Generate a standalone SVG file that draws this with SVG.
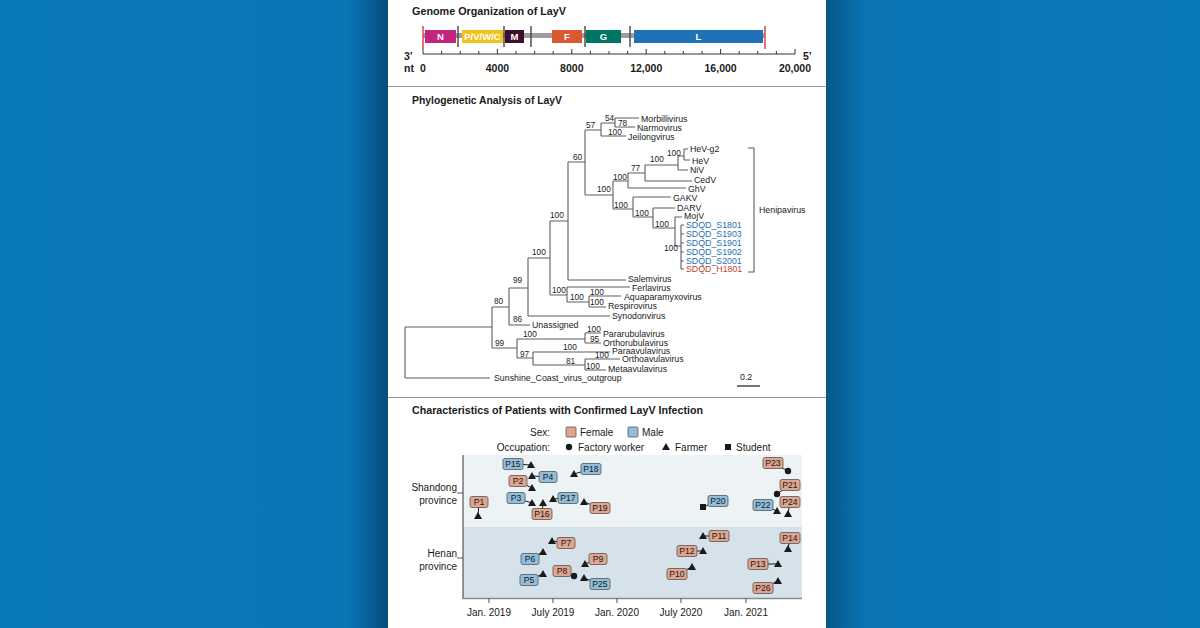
<svg xmlns="http://www.w3.org/2000/svg" xmlns:xlink="http://www.w3.org/1999/xlink" width="1200" height="628" viewBox="0 0 1200 628">
<defs>
<linearGradient id="bg" x1="0" y1="0" x2="1200" y2="0" gradientUnits="userSpaceOnUse">
<stop offset="0" stop-color="#0a79bb"/>
<stop offset="0.29" stop-color="#0a75b5"/>
<stop offset="0.323" stop-color="#054d7c"/>
<stop offset="0.69" stop-color="#06588a"/>
<stop offset="0.72" stop-color="#0a74b3"/>
<stop offset="1" stop-color="#0a79bb"/>
</linearGradient>
<path id="tri" d="M0,-4 L4,3 L-4,3Z" fill="#1a1a1a"/>
<circle id="dot" r="3.2" fill="#1a1a1a"/>
<rect id="sq" x="-3" y="-3" width="6" height="6" fill="#1a1a1a"/>
</defs>
<style>
.t{font-family:"Liberation Sans",Arial,sans-serif;fill:#1a1a1a}
.title{font-family:"Liberation Sans",Arial,sans-serif;font-weight:bold;font-size:11.5px;fill:#1a1a1a}
.ax{font-family:"Liberation Sans",Arial,sans-serif;font-weight:bold;font-size:10.5px;fill:#1a1a1a}
.gl{font-family:"Liberation Sans",Arial,sans-serif;font-weight:bold;font-size:9.5px;fill:#fff;text-anchor:middle}
.tip{font-family:"Liberation Sans",Arial,sans-serif;font-size:8.8px;fill:#1a1a1a}
.bs{font-family:"Liberation Sans",Arial,sans-serif;font-size:8.3px;fill:#1a1a1a}
.blue{fill:#1f6fae}
.red{fill:#c0412b}
.br{stroke:#5e5e5e;stroke-width:1.1;fill:none}
.sep{stroke:#444;stroke-width:1.4}
.red-l{stroke:#d9534f;stroke-width:1.6}
.fem{fill:#dfa58f;stroke:#555;stroke-width:0.8}
.mal{fill:#91bedb;stroke:#555;stroke-width:0.8}
.pl{font-family:"Liberation Sans",Arial,sans-serif;font-size:8.6px;fill:#1a1a1a;text-anchor:middle}
.lk{stroke:#1a1a1a;stroke-width:1}
.lg{font-family:"Liberation Sans",Arial,sans-serif;font-size:10px;fill:#1a1a1a}
</style>
<rect x="0" y="0" width="1200" height="628" fill="url(#bg)"/>
<rect x="388" y="0" width="438" height="628" fill="#ffffff"/>
<line x1="388" y1="86.5" x2="826" y2="86.5" stroke="#9a9a9a" stroke-width="1"/>
<line x1="388" y1="397.5" x2="826" y2="397.5" stroke="#9a9a9a" stroke-width="1"/>

<!-- Genome organization -->
<g id="genome">
<text class="title" x="412" y="15" textLength="154" lengthAdjust="spacingAndGlyphs">Genome Organization of LayV</text>
<line x1="423" y1="35.5" x2="765" y2="35.5" stroke="#9e9e9e" stroke-width="5"/>
<g id="gene-N"><rect x="425" y="30" width="31" height="13" fill="#c2257f"/><text class="gl" x="440.5" y="40">N</text></g>
<g id="gene-PVWC"><rect x="462" y="30" width="41" height="13" fill="#f1c31c"/><text class="gl" x="482.5" y="40">P/V/W/C</text></g>
<g id="gene-M"><rect x="505" y="30" width="19" height="13" fill="#3e0c2f"/><text class="gl" x="514.5" y="40">M</text></g>
<g id="gene-F"><rect x="552" y="30" width="30" height="13" fill="#d95a32"/><text class="gl" x="567" y="40">F</text></g>
<g id="gene-G"><rect x="586" y="30" width="35" height="13" fill="#007563"/><text class="gl" x="603.5" y="40">G</text></g>
<g id="gene-L"><rect x="634" y="30" width="129" height="13" fill="#1f72b6"/><text class="gl" x="698.5" y="40">L</text></g>
<line class="red-l" x1="423" y1="26" x2="423" y2="49"/>
<line class="red-l" x1="765" y1="26" x2="765" y2="49"/>
<line class="sep" x1="458" y1="26" x2="458" y2="47"/>
<line class="sep" x1="504" y1="26" x2="504" y2="47"/>
<line class="sep" x1="531" y1="26" x2="531" y2="47"/>
<line class="sep" x1="585" y1="26" x2="585" y2="47"/>
<line class="sep" x1="630" y1="26" x2="630" y2="47"/>
<g stroke="#333" stroke-width="1">
<line x1="423" y1="54" x2="795" y2="54"/>
<path d="M423,54V49M441.6,54V51M460.2,54V51M478.8,54V51M497.4,54V49M516,54V51M534.6,54V51M553.2,54V51M571.8,54V49M590.4,54V51M609,54V51M627.6,54V51M646.2,54V49M664.8,54V51M683.4,54V51M702,54V51M720.6,54V49M739.2,54V51M757.8,54V51M776.4,54V51M795,54V49"/>
</g>
<text class="ax" x="404" y="60">3’</text>
<text class="ax" x="404" y="72">nt</text>
<text class="ax" x="803" y="60">5’</text>
<g class="ax" text-anchor="middle">
<text x="423" y="72">0</text>
<text x="497.4" y="72">4000</text>
<text x="571.8" y="72">8000</text>
<text x="646.2" y="72">12,000</text>
<text x="720.6" y="72">16,000</text>
<text x="795" y="72">20,000</text>
</g>
</g>

<!-- Phylogenetic tree -->
<text class="title" x="412" y="104" textLength="150" lengthAdjust="spacingAndGlyphs">Phylogenetic Analysis of LayV</text>
<g id="tree-branches">
<path class="br" d="M405,327V378M405,327H492M405,378H490
M492,307V348M492,307H509M492,348H517
M509,288V325M509,288H528M509,325H530
M528,258V316M528,258H550M528,316H610
M550,221V295M550,221H568M550,295H567
M567,287V302M567,287H630M567,302H589
M589,296V307M589,296H621M589,307H606
M568,162V280M568,162H585M568,280H626
M585,130V195M585,130H601M585,195H613
M601,123V136M601,123H615M601,136H626
M615,118V127M615,118H639M615,127H635
M613,181V209M613,181H628M613,209H633
M628,173V188M628,173H645M628,188H686
M645,165V181M645,165H678M645,181H692
M678,156V170M678,156H684M678,170H688
M684,149V160M684,149H688M684,160H690
M633,197V217M633,197H671M633,217H653
M653,208V228M653,208H675M653,228H675
M675,217V246M675,217H682M675,246H681
M681,225V269M681,225H684M681,234H684M681,243H684M681,252H684M681,261H684M681,269H684
M517,339V358M517,339H585M517,358H533
M585,333V343M585,333H601M585,343H601
M533,352V365M533,352H610M533,365H585
M585,359V370M585,359H620M585,370H606"/>
<path class="br" d="M748,148H754V272H748"/>
<path d="M737,386H760" stroke="#1a1a1a" stroke-width="1.2"/>
</g>
<g id="tree-bootstrap" class="bs">
<text x="605" y="121">54</text>
<text x="618" y="126">78</text>
<text x="586" y="128">57</text>
<text x="608" y="135">100</text>
<text x="573" y="160">60</text>
<text x="667" y="156">100</text>
<text x="650" y="162">100</text>
<text x="631" y="171">77</text>
<text x="613" y="180">100</text>
<text x="597" y="192">100</text>
<text x="614" y="208">100</text>
<text x="635" y="216">100</text>
<text x="655" y="227">100</text>
<text x="664" y="251">100</text>
<text x="550" y="218">100</text>
<text x="532" y="255">100</text>
<text x="513" y="283">99</text>
<text x="494" y="304">80</text>
<text x="513" y="322">86</text>
<text x="552" y="293">100</text>
<text x="570" y="300">100</text>
<text x="590" y="295">100</text>
<text x="590" y="305">100</text>
<text x="523" y="337">100</text>
<text x="495" y="346">99</text>
<text x="587" y="332">100</text>
<text x="590" y="342">95</text>
<text x="520" y="357">97</text>
<text x="563" y="350">100</text>
<text x="595" y="358">100</text>
<text x="566" y="364">81</text>
<text x="586" y="369">100</text>
</g>
<g id="tree-tips" class="tip">
<text id="tip-morbilli" x="641" y="122">Morbillivirus</text>
<text id="tip-narmo" x="637" y="131">Narmovirus</text>
<text id="tip-jeilong" x="628" y="140">Jeilongvirus</text>
<text id="tip-hevg2" x="690" y="152">HeV-g2</text>
<text id="tip-hev" x="692" y="164">HeV</text>
<text id="tip-niv" x="690" y="173">NiV</text>
<text id="tip-cedv" x="694" y="182.5">CedV</text>
<text id="tip-ghv" x="688" y="191.5">GhV</text>
<text id="tip-gakv" x="673" y="201">GAKV</text>
<text id="tip-darv" x="677" y="211">DARV</text>
<text id="tip-mojv" x="684" y="219">MojV</text>
<text id="tip-s1801" class="blue" x="686" y="228">SDQD_S1801</text>
<text id="tip-s1903" class="blue" x="686" y="237">SDQD_S1903</text>
<text id="tip-s1901" class="blue" x="686" y="246">SDQD_S1901</text>
<text id="tip-s1902" class="blue" x="686" y="255">SDQD_S1902</text>
<text id="tip-s2001" class="blue" x="686" y="264">SDQD_S2001</text>
<text id="tip-h1801" class="red" x="686" y="272">SDQD_H1801</text>
<text id="clade-henipa" x="759" y="213">Henipavirus</text>
<text id="tip-salem" x="628" y="282">Salemvirus</text>
<text id="tip-ferla" x="632" y="291">Ferlavirus</text>
<text id="tip-aqua" x="624" y="300">Aquaparamyxovirus</text>
<text id="tip-respiro" x="608" y="309">Respirovirus</text>
<text id="tip-synodon" x="612" y="319">Synodonvirus</text>
<text id="tip-unassigned" x="532" y="328">Unassigned</text>
<text id="tip-pararubula" x="603" y="337">Pararubulavirus</text>
<text id="tip-orthorubula" x="603" y="346">Orthorubulavirus</text>
<text id="tip-paraavula" x="612" y="354">Paraavulavirus</text>
<text id="tip-orthoavula" x="622" y="362">Orthoavulavirus</text>
<text id="tip-metaavula" x="608" y="372">Metaavulavirus</text>
<text id="tip-sunshine" x="494" y="381">Sunshine_Coast_virus_outgroup</text>
<text id="scale" x="740" y="380">0.2</text>
</g>

<!-- Patients -->
<text class="title" x="412" y="414" textLength="291" lengthAdjust="spacingAndGlyphs">Characteristics of Patients with Confirmed LayV Infection</text>
<g id="legend" class="lg">
<text x="550" y="436" text-anchor="end">Sex:</text>
<rect class="fem" x="566" y="427" width="10" height="10" rx="1"/>
<text x="580" y="436">Female</text>
<rect class="mal" x="628" y="427" width="10" height="10" rx="1"/>
<text x="642" y="436">Male</text>
<text x="550" y="451" text-anchor="end">Occupation:</text>
<use href="#dot" x="569" y="447"/>
<text x="578" y="451">Factory worker</text>
<use href="#tri" x="666" y="447"/>
<text x="675" y="451">Farmer</text>
<use href="#sq" x="728" y="447"/>
<text x="736" y="451">Student</text>
</g>
<g id="chart">
<rect x="463" y="455" width="339" height="72" fill="#edf2f5"/>
<rect x="463" y="527" width="339" height="71" fill="#d6e2e9"/>
<line x1="463" y1="455" x2="463" y2="599" stroke="#555" stroke-width="1.2"/>
<line x1="463" y1="598.5" x2="802" y2="598.5" stroke="#8a8a8a" stroke-width="1.6"/>
<path d="M489,598V603M553,598V603M617,598V603M681,598V603M746,598V603M457,493H463M457,558H463" stroke="#555" stroke-width="1"/>
<g class="lg" text-anchor="middle">
<text x="489" y="616">Jan. 2019</text>
<text x="553" y="616">July 2019</text>
<text x="617" y="616">Jan. 2020</text>
<text x="681" y="616">July 2020</text>
<text x="746" y="616">Jan. 2021</text>
</g>
<g class="lg" text-anchor="end">
<text x="457" y="491">Shandong</text>
<text x="457" y="504">province</text>
<text x="457" y="557">Henan</text>
<text x="457" y="570">province</text>
</g>
</g>
<g id="connectors" class="lk">
<line x1="513" y1="464" x2="531" y2="465"/>
<line x1="518" y1="481" x2="532" y2="488"/>
<line x1="548" y1="477" x2="532" y2="476"/>
<line x1="591" y1="469" x2="574" y2="474"/>
<line x1="479" y1="502" x2="478" y2="516"/>
<line x1="516" y1="498" x2="532" y2="503"/>
<line x1="542" y1="514" x2="543" y2="503"/>
<line x1="568" y1="498" x2="553" y2="499"/>
<line x1="600" y1="508" x2="584" y2="502"/>
<line x1="773" y1="463" x2="788" y2="471"/>
<line x1="790" y1="485" x2="777" y2="494"/>
<line x1="718" y1="501" x2="703" y2="507"/>
<line x1="763" y1="505" x2="777" y2="511"/>
<line x1="790" y1="502" x2="788" y2="514"/>
<line x1="566" y1="543" x2="552" y2="541"/>
<line x1="530" y1="559" x2="543" y2="552"/>
<line x1="598" y1="559" x2="585" y2="564"/>
<line x1="562" y1="571" x2="574" y2="576"/>
<line x1="529" y1="580" x2="543" y2="574"/>
<line x1="600" y1="584" x2="584" y2="578"/>
<line x1="719" y1="536" x2="703" y2="536"/>
<line x1="687" y1="551" x2="703" y2="551"/>
<line x1="677" y1="574" x2="692" y2="567"/>
<line x1="790" y1="538" x2="788" y2="549"/>
<line x1="758" y1="564" x2="778" y2="564"/>
<line x1="763" y1="588" x2="778" y2="581"/>
</g>
<g id="markers">
<use href="#tri" x="531" y="465"/><use href="#tri" x="532" y="488"/><use href="#tri" x="532" y="476"/>
<use href="#tri" x="574" y="474"/><use href="#tri" x="478" y="516"/><use href="#tri" x="532" y="503"/>
<use href="#tri" x="543" y="503"/><use href="#tri" x="553" y="499"/><use href="#tri" x="584" y="502"/>
<use href="#dot" x="788" y="471"/><use href="#dot" x="777" y="494"/><use href="#sq" x="703" y="507"/>
<use href="#tri" x="777" y="511"/><use href="#tri" x="788" y="514"/>
<use href="#tri" x="552" y="541"/><use href="#tri" x="543" y="552"/><use href="#tri" x="585" y="564"/>
<use href="#dot" x="574" y="576"/><use href="#tri" x="543" y="574"/><use href="#tri" x="584" y="578"/>
<use href="#tri" x="703" y="536"/><use href="#tri" x="703" y="551"/><use href="#tri" x="692" y="567"/>
<use href="#tri" x="788" y="549"/><use href="#tri" x="778" y="564"/><use href="#tri" x="778" y="581"/>
</g>
<g id="patients">
<g id="P15"><rect class="mal" x="503" y="458.5" width="20" height="11" rx="2"/><text class="pl" x="513" y="467">P15</text></g>
<g id="P2"><rect class="fem" x="509" y="475.5" width="18" height="11" rx="2"/><text class="pl" x="518" y="484">P2</text></g>
<g id="P4"><rect class="mal" x="539" y="471.5" width="18" height="11" rx="2"/><text class="pl" x="548" y="480">P4</text></g>
<g id="P18"><rect class="mal" x="581" y="463.5" width="20" height="11" rx="2"/><text class="pl" x="591" y="472">P18</text></g>
<g id="P1"><rect class="fem" x="470" y="496.5" width="18" height="11" rx="2"/><text class="pl" x="479" y="505">P1</text></g>
<g id="P3"><rect class="mal" x="507" y="492.5" width="18" height="11" rx="2"/><text class="pl" x="516" y="501">P3</text></g>
<g id="P16"><rect class="fem" x="532" y="508.5" width="20" height="11" rx="2"/><text class="pl" x="542" y="517">P16</text></g>
<g id="P17"><rect class="mal" x="558" y="492.5" width="20" height="11" rx="2"/><text class="pl" x="568" y="501">P17</text></g>
<g id="P19"><rect class="fem" x="590" y="502.5" width="20" height="11" rx="2"/><text class="pl" x="600" y="511">P19</text></g>
<g id="P23"><rect class="fem" x="763" y="457.5" width="20" height="11" rx="2"/><text class="pl" x="773" y="466">P23</text></g>
<g id="P21"><rect class="fem" x="780" y="479.5" width="20" height="11" rx="2"/><text class="pl" x="790" y="488">P21</text></g>
<g id="P20"><rect class="mal" x="708" y="495.5" width="20" height="11" rx="2"/><text class="pl" x="718" y="504">P20</text></g>
<g id="P22"><rect class="mal" x="753" y="499.5" width="20" height="11" rx="2"/><text class="pl" x="763" y="508">P22</text></g>
<g id="P24"><rect class="fem" x="780" y="496.5" width="20" height="11" rx="2"/><text class="pl" x="790" y="505">P24</text></g>
<g id="P7"><rect class="fem" x="557" y="537.5" width="18" height="11" rx="2"/><text class="pl" x="566" y="546">P7</text></g>
<g id="P6"><rect class="mal" x="521" y="553.5" width="18" height="11" rx="2"/><text class="pl" x="530" y="562">P6</text></g>
<g id="P9"><rect class="fem" x="589" y="553.5" width="18" height="11" rx="2"/><text class="pl" x="598" y="562">P9</text></g>
<g id="P8"><rect class="fem" x="553" y="565.5" width="18" height="11" rx="2"/><text class="pl" x="562" y="574">P8</text></g>
<g id="P5"><rect class="mal" x="520" y="574.5" width="18" height="11" rx="2"/><text class="pl" x="529" y="583">P5</text></g>
<g id="P25"><rect class="mal" x="590" y="578.5" width="20" height="11" rx="2"/><text class="pl" x="600" y="587">P25</text></g>
<g id="P11"><rect class="fem" x="709" y="530.5" width="20" height="11" rx="2"/><text class="pl" x="719" y="539">P11</text></g>
<g id="P12"><rect class="fem" x="677" y="545.5" width="20" height="11" rx="2"/><text class="pl" x="687" y="554">P12</text></g>
<g id="P10"><rect class="fem" x="667" y="568.5" width="20" height="11" rx="2"/><text class="pl" x="677" y="577">P10</text></g>
<g id="P14"><rect class="fem" x="780" y="532.5" width="20" height="11" rx="2"/><text class="pl" x="790" y="541">P14</text></g>
<g id="P13"><rect class="fem" x="748" y="558.5" width="20" height="11" rx="2"/><text class="pl" x="758" y="567">P13</text></g>
<g id="P26"><rect class="fem" x="753" y="582.5" width="20" height="11" rx="2"/><text class="pl" x="763" y="591">P26</text></g>
</g>
</svg>
